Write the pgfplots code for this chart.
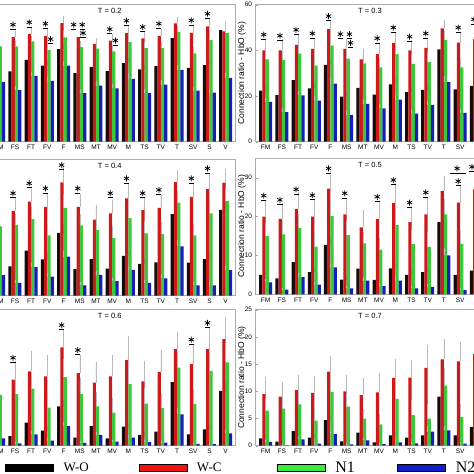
\documentclass[border=0pt]{standalone}
\usepackage{pgfplots}
\pgfplotsset{compat=1.18}
\usepackage{pgfplotstable}
\usepackage{fontspec}
\setmainfont{Liberation Sans}
\newfontfamily\legfont{Liberation Serif}

\definecolor{cWO}{RGB}{22,10,10}
\definecolor{cWC}{RGB}{205,25,25}
\definecolor{cN1}{RGB}{60,200,60}
\definecolor{cN2}{RGB}{20,30,185}
\definecolor{lWO}{RGB}{0,0,0}
\definecolor{lWC}{RGB}{240,20,20}
\definecolor{lN1}{RGB}{60,235,60}
\definecolor{lN2}{RGB}{15,30,200}

% columns: x, w-o (b), w-c (r), N1 (g), N2 (n), each followed by its error
\pgfplotstableread{
x  b    be   r    re   g    ge   n    ne
0  35.0 2.0  55.0 3.0  48.7 2.6  30.4 1.8
1  35.9 2.0  53.4 2.8  48.7 2.5  26.3 1.6
2  41.8 2.2  55.1 2.6  51.2 2.4  33.6 1.8
3  38.9 2.0  54.1 2.8  46.9 2.6  31.1 1.7
4  47.3 2.2  60.6 3.0  53.3 2.8  38.9 2.0
5  35.0 1.8  53.4 2.8  48.3 2.6  24.8 1.5
6  38.2 2.0  50.0 2.6  47.5 2.5  28.7 1.7
7  36.0 2.0  51.7 2.8  46.1 2.6  27.2 1.6
8  40.1 2.2  55.5 3.0  50.9 2.6  32.1 1.8
9  36.9 2.0  52.8 2.8  47.8 2.5  24.8 1.6
10 38.6 2.0  54.1 2.8  47.9 2.6  29.2 1.7
11 52.9 2.5  60.4 2.8  56.0 2.6  36.7 1.9
12 37.7 2.0  55.6 3.0  45.1 2.6  26.1 1.6
13 39.1 2.2  58.9 3.2  51.9 2.8  25.1 1.6
14 57.0 2.6  56.4 5.0  55.5 3.0  32.6 1.8
}\tabA
\pgfplotstableread{
x  b    be   r    re   g    ge   n    ne
0  22.4 2.0  40.0 4.2  36.1 3.8  17.4 1.5
1  20.4 1.8  40.0 4.5  35.7 3.6  12.9 1.3
2  27.0 2.5  42.4 4.0  38.6 3.5  20.3 1.7
3  23.3 2.2  40.7 4.0  33.3 3.8  18.0 1.6
4  33.6 2.6  49.3 3.5  42.1 3.8  25.4 2.0
5  19.7 1.8  40.6 4.2  36.4 3.8  11.7 1.2
6  23.6 4.5  36.1 4.0  34.3 3.6  16.6 1.5
7  20.6 2.0  38.4 4.2  32.6 3.6  14.6 1.4
8  25.1 2.4  43.3 4.2  38.4 3.8  18.4 1.6
9  21.7 2.0  40.0 4.0  34.1 3.6  12.3 1.3
10 22.7 2.2  41.1 4.0  34.9 3.6  16.1 1.5
11 40.4 3.0  49.6 3.4  44.6 3.6  26.1 2.2
12 22.9 2.0  43.4 4.4  32.6 3.8  12.6 1.3
13 24.4 2.8  45.0 4.2  38.0 3.8  20.0 1.6
14 40.0 3.0  45.0 4.0  44.0 4.0  25.0 2.0
}\tabB
\pgfplotstableread{
x  b    be   r    re   g    ge   n    ne
0  10.0 1.5  28.0 3.8  22.9 3.5  6.8  1.0
1  9.7  1.3  27.9 3.8  23.4 3.4  4.2  0.8
2  14.9 1.8  31.0 4.0  25.3 3.6  9.4  1.2
3  12.0 1.8  29.3 4.2  19.9 3.6  6.3  1.0
4  20.7 2.2  37.4 5.0  29.0 3.8  12.9 1.4
5  8.8  1.4  29.3 4.0  23.2 3.6  3.4  0.8
6  12.1 1.8  25.1 4.5  21.6 3.4  6.9  1.0
7  8.9  1.4  27.2 4.2  19.0 3.6  4.8  0.9
8  13.1 1.8  32.1 4.6  25.6 3.8  8.5  1.1
9  10.5 1.6  28.2 4.0  20.6 3.6  4.2  0.8
10 11.0 1.6  29.0 4.0  20.3 3.6  5.7  1.0
11 26.9 2.6  37.5 3.6  30.7 3.4  16.3 1.8
12 10.9 1.6  32.6 4.5  19.9 3.6  3.4  0.8
13 12.1 1.8  35.2 4.6  27.2 3.8  3.4  0.8
14 28.3 2.8  37.3 4.2  31.2 3.6  8.4  1.2
}\tabC
\pgfplotstableread{
x  b    be   r    re   g    ge   n    ne
0  5.0  0.8  20.0 4.0  15.0 3.2  3.1  0.6
1  4.1  0.9  19.4 3.8  15.4 3.6  1.2  0.3
2  8.3  1.4  21.9 4.2  17.0 3.4  4.4  0.8
3  5.7  1.2  20.0 4.0  12.3 3.0  2.5  0.5
4  12.7 1.8  27.2 4.2  20.1 3.6  6.9  1.0
5  3.8  0.8  20.6 4.0  15.3 3.4  1.5  0.3
6  6.6  1.2  17.2 4.2  13.1 2.6  3.5  0.6
7  3.7  0.8  19.4 4.2  11.5 2.8  2.1  0.5
8  6.7  1.2  23.5 4.8  17.8 4.0  3.5  0.6
9  5.0  0.9  18.6 3.8  12.9 3.4  1.5  0.4
10 5.7  1.4  20.6 4.2  12.2 3.6  1.9  0.4
11 18.6 2.6  26.6 3.6  20.6 3.6  10.0 1.6
12 5.0  1.0  23.6 4.2  13.0 3.4  1.1  0.3
13 6.1  1.4  27.0 4.2  18.0 3.6  2.0  0.5
14 15.0 2.0  25.0 4.0  20.0 3.5  3.0  0.6
}\tabD
\pgfplotstableread{
x  b    be   r    re   g    ge   n    ne
0  1.5  0.6  13.5 4.0  11.2 3.6  1.6  0.4
1  2.1  0.5  14.6 3.8  11.4 3.2  0.5  0.2
2  5.1  1.0  16.4 4.4  12.6 3.4  2.5  0.5
3  3.3  0.8  15.3 4.5  8.4  3.4  1.1  0.3
4  8.7  1.4  21.7 3.6  15.1 3.8  4.3  0.7
5  1.8  0.4  16.0 3.8  11.4 3.4  0.6  0.2
6  4.3  0.8  13.9 4.4  8.7  3.0  2.4  0.5
7  1.6  0.4  15.3 4.6  7.3  3.0  0.9  0.2
8  4.2  0.6  18.9 5.0  13.6 3.6  1.8  0.4
9  2.4  0.6  14.2 4.2  9.3  3.2  0.8  0.2
10 3.1  0.8  16.3 4.6  8.3  3.0  0.7  0.2
11 14.0 2.0  21.3 3.6  17.2 3.6  6.9  1.2
12 2.5  0.6  18.0 4.2  9.2  3.0  0.4  0.1
13 3.6  0.8  21.3 4.6  16.5 3.8  0.4  0.1
14 12.1 1.8  23.5 4.6  18.4 4.0  2.7  0.6
}\tabE
\pgfplotstableread{
x  b    be   r     re   g     ge   n    ne
0  1.35 0.4  9.5   2.9  6.45  2.0  0.7  0.2
1  0.75 0.3  9.0   2.5  6.8   2.4  0.05 0.05
2  2.7  0.6  10.2  2.7  7.6   2.4  1.15 0.3
3  1.5  0.5  9.7   3.0  4.6   2.0  0.4  0.2
4  4.7  0.8  13.6  2.8  9.9   2.3  2.15 0.4
5  0.8  0.3  10.0  2.8  7.2   2.4  0.25 0.1
6  2.4  0.6  9.3   3.0  5.0   1.5  1.0  0.3
7  0.6  0.3  9.8   3.4  3.9   1.8  0.3  0.1
8  1.9  0.5  12.45 3.4  8.6   2.8  0.6  0.2
9  1.5  0.5  12.5  3.0  5.6   2.6  0.45 0.1
10 1.9  0.5  14.3  4.0  5.0   2.5  2.6  0.8
11 9.0  1.8  15.85 3.6  11.05 3.0  2.8  0.7
12 1.9  0.6  15.5  3.4  5.3   2.2  0.4  0.1
13 3.4  1.4  16.9  3.6  6.0   2.2  0.6  0.2
14 6.0  1.0  15.0  3.0  8.0   2.0  1.0  0.3
}\tabF

% significance marks (x in category units, y in data units)
\pgfplotstableread{
x    y
0.88 59.8
1.88 61.0
2.88 60.3
3.2  52.4
4.62 59.8
5.15 59.8
5.2  55.5
6.85 57.5
7.2  51.7
7.88 61.8
8.88 58.6
9.88 60.3
11.88 62.0
12.88 65.4
}\sigA
\pgfplotstableread{
x     y
-0.12 46.9
0.88  46.4
1.88  49.0
2.88  47.4
3.88  55.0
4.61  47.1
5.17  47.1
5.23  43.3
6.88  45.3
7.88  50.0
8.88  46.0
9.88  47.4
11.88 50.0
12.85 53.6
}\sigB
\pgfplotstableread{
x     y
0.88  33.8
1.88  37.1
2.88  35.4
3.88  43.1
4.88  35.4
6.88  33.8
7.88  38.7
8.88  33.8
9.88  34.9
11.88 38.7
12.88 42.0
}\sigC
\pgfplotstableread{
x     y
-0.12 25.4
0.88  24.3
1.88  27.0
2.88  25.5
3.88  32.4
4.88  26.0
6.88  25.1
7.88  29.4
8.88  23.6
9.88  26.2
11.88 29.1
11.81 32.4
12.73 32.8
}\sigD
\pgfplotstableread{
x     y
0.88  19.4
3.88  26.6
4.88  21.1
11.88 23.4
12.88 27.1
}\sigE

\pgfplotsset{
  panel/.style={
    scale only axis, width=247pt,
    xmin=-0.62, xmax=14.62, ymin=0,
    axis line style={gray!65, line width=0.5pt},
    xtick={0,...,14},
    xticklabels={FM,FS,FT,FV,F,MS,MT,MV,M,TS,TV,T,SV,S,V},
    x tick style={draw=none},
    y tick style={gray!70},
    tick align=inside, major tick length=2pt,
    tick label style={font=\fontsize{6.5}{7}\selectfont, black},
    /pgf/number format/assume math mode=true,
    title style={font=\fontsize{7.5}{8}\selectfont, at={(0.49,1)}, anchor=north, yshift=-6pt},
  },
  leftpanel/.style={panel, ytick=\empty},
  rightpanel/.style={
    panel,
    xtick={0,...,12},
    xticklabels={FM,FS,FT,FV,F,MS,MT,MV,M,TS,TV,T,SV},
    title style={at={(0.463,1)}},
    ylabel={Connection ratio - HbO (\%)},
    every axis y label/.style={at={(axis description cs:-0.055,0.5)}, rotate=90, anchor=center, font=\fontsize{8.5}{9}\selectfont},
  },
  bars/.style={ybar, bar width=0.2, draw=none,
    error bars/y dir=plus, error bars/y explicit,
    error bars/error bar style={gray!55, line width=0.5pt},
    error bars/error mark options={gray!55, mark size=0.9pt, line width=0.5pt}},
  sig/.style={only marks, mark=asterisk, mark size=3pt, black, mark options={line width=0.75pt}},
  sigline/.style={only marks, mark=-, mark size=2.6pt, black, mark options={line width=0.7pt, yshift=-4.6pt}},
}

\newcommand{\panelbars}[1]{%
  \addplot[bars, bar shift=-0.3, fill=cWO] table[x=x, y=b, y error=be] {#1};
  \addplot[bars, bar shift=-0.1, fill=cWC] table[x=x, y=r, y error=re] {#1};
  \addplot[bars, bar shift=0.1, fill=cN1] table[x=x, y=g, y error=ge] {#1};
  \addplot[bars, bar shift=0.3, fill=cN2] table[x=x, y=n, y error=ne] {#1};
}
\newcommand{\panelsig}[1]{%
  \addplot[sig] table[x=x, y=y] {#1};
  \addplot[sigline] table[x=x, y=y] {#1};
}

\begin{document}
\begin{tikzpicture}
\useasboundingbox (0,0) rectangle (474pt,474pt);
\clip (0,0) rectangle (474pt,474pt);
\begin{pgfinterruptboundingbox}

% T = 0.2
\begin{axis}[leftpanel, at={(-11.3pt,332.3pt)}, anchor=south west, height=137pt, ymax=70, title={T = 0.2}]
\panelbars{\tabA}
\panelsig{\sigA}
\end{axis}

% T = 0.3
\begin{axis}[rightpanel, at={(255.6pt,332.3pt)}, anchor=south west, height=137pt, ymax=60, ytick={0,20,40,60}, title={T = 0.3}]
\panelbars{\tabB}
\panelsig{\sigB}
\end{axis}

% T = 0.4
\begin{axis}[leftpanel, at={(-11.3pt,178.3pt)}, anchor=south west, height=136.4pt, ymax=45, title={T = 0.4}]
\panelbars{\tabC}
\panelsig{\sigC}
\end{axis}

% T = 0.5
\begin{axis}[rightpanel, at={(255.6pt,179.7pt)}, anchor=south west, height=136pt, ymax=35, ytick={0,10,20,30}, title={T = 0.5}]
\panelbars{\tabD}
\panelsig{\sigD}
\addplot[black, line width=0.7pt] coordinates {(11.38,31.1) (12.36,31.1)};
\end{axis}

% T = 0.6
\begin{axis}[leftpanel, at={(-11.3pt,28.3pt)}, anchor=south west, height=136pt, ymax=30, title={T = 0.6}]
\panelbars{\tabE}
\panelsig{\sigE}
\end{axis}

% T = 0.7
\begin{axis}[rightpanel, at={(255.6pt,28.3pt)}, anchor=south west, height=136pt, ymax=25, ytick={0,5,10,15,20,25}, title={T = 0.7}]
\panelbars{\tabF}
\end{axis}

% shared legend along the bottom edge
\begin{axis}[at={(0pt,0pt)}, anchor=south west, scale only axis, width=474pt, height=474pt,
  hide axis, xmin=0, xmax=1, ymin=0, ymax=1,
  legend columns=4,
  legend image code/.code={\fill[#1] (0pt,-3.5pt) rectangle (48pt,3.5pt);},
  legend style={at={(0.01055,0.01371)}, anchor=west, draw=none, fill=none, inner sep=0pt,
    column sep=0pt, nodes={inner sep=0pt},
    /tikz/every odd column/.style={column sep=10pt}}]
\addlegendimage{fill=lWO}
\addlegendentry{\makebox[75pt][l]{\legfont\fontsize{13}{13}\selectfont W-O}}
\addlegendimage{fill=lWC}
\addlegendentry{\makebox[80pt][l]{\legfont\fontsize{13}{13}\selectfont W-C}}
\addlegendimage{fill=lN1}
\addlegendentry{\makebox[62pt][l]{\legfont\fontsize{16}{16}\selectfont N1}}
\addlegendimage{fill=lN2}
\addlegendentry{\legfont\fontsize{16}{16}\selectfont N2}
\end{axis}

\end{pgfinterruptboundingbox}
\end{tikzpicture}
\end{document}
